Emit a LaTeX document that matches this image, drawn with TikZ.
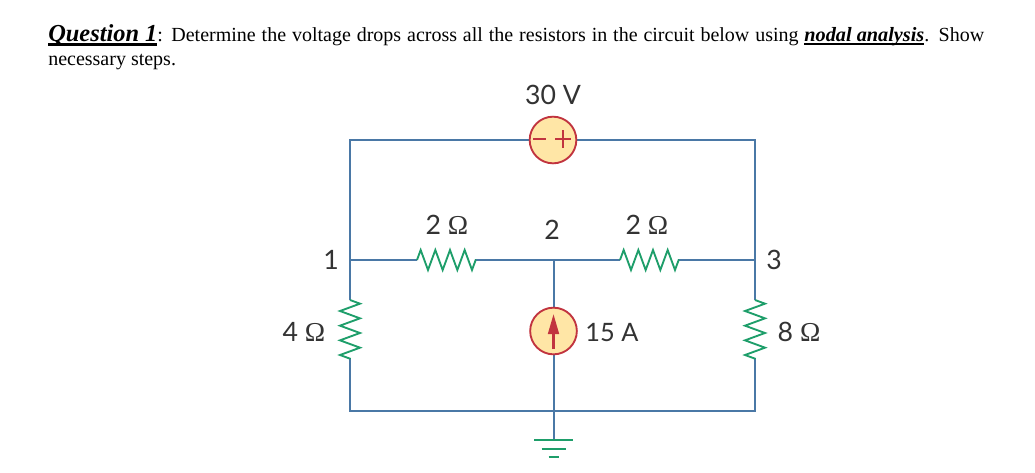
\documentclass[tikz,border=0pt]{standalone}
\usepackage{fontspec}
\setmainfont{Liberation Serif}
\newfontfamily\circuitfont{Lato}
\usetikzlibrary{arrows.meta,decorations.pathmorphing}
\definecolor{wireblue}{HTML}{4A78A6}
\definecolor{resgreen}{HTML}{1E9E6A}
\definecolor{srcred}{HTML}{C1343F}
\definecolor{srcfill}{HTML}{FFE6A6}
\definecolor{labelgray}{HTML}{333333}
\newsavebox{\ulbox}
% #1 drop of the rule, #2 its thickness, #3 the text
\newcommand{\thickul}[3]{\sbox{\ulbox}{#3}\rlap{\raisebox{-#1}{\rule{\wd\ulbox}{#2}}}\usebox{\ulbox}}
\newcommand{\ohm}{{\rmfamily\fontsize{20.5}{24}\selectfont Ω}}
\begin{document}
\begin{tikzpicture}
            [x=0.75pt,y=-0.75pt,
            Wire/.style={draw=wireblue,line width=1.5pt},
            Res/.style={draw=resgreen,line width=1.4pt,decorate,decoration={zigzag,segment length=11pt,amplitude=7.5pt}},
            Source/.style={circle,draw=srcred,fill=srcfill,line width=1.4pt,minimum size=35pt,inner sep=0pt},
            Sign/.style={draw=srcred,line width=1.5pt},
            Gnd/.style={draw=resgreen,line width=1.4pt},
            Label/.style={text=labelgray,font=\circuitfont\fontsize{20}{24}\selectfont,inner sep=0pt},
            Body/.style={anchor=base west,inner sep=0pt,font=\fontsize{15}{18}\selectfont}];
            \useasboundingbox (0,0) rectangle (1035,472);
            % question text
            \node[Body] (line1) at (48,41){\makebox[702pt][s]{\thickul{3.6pt}{2pt}{\fontsize{18.3}{20}\selectfont\textbf{\textit{Question 1}}}: Determine the voltage drops across all the resistors in the circuit below using \thickul{2.7pt}{1.5pt}{\fontsize{15.2}{18}\selectfont\textbf{\textit{nodal analysis}}}. Show}};
            \node[Body] (line2) at (48,65.5){necessary steps.};
            % corners and junctions
            \coordinate (tl) at (350,140);
            \coordinate (tr) at (755,140);
            \coordinate (ml) at (350,260);
            \coordinate (mm) at (553.5,260);
            \coordinate (mr) at (755,260);
            \coordinate (bl) at (350,411);
            \coordinate (bm) at (553.5,411);
            \coordinate (br) at (755,411);
            % resistor ends
            \coordinate (r1a) at (417,260);
            \coordinate (r1b) at (476,260);
            \coordinate (r2a) at (620,260);
            \coordinate (r2b) at (679,260);
            \coordinate (r3a) at (350,300);
            \coordinate (r3b) at (350,359);
            \coordinate (r4a) at (755,300);
            \coordinate (r4b) at (755,359);
            % ground
            \coordinate (g1) at (553.5,440);
            \coordinate (g1a) at (534,440);
            \coordinate (g1b) at (573,440);
            \coordinate (g2a) at (541.5,449);
            \coordinate (g2b) at (565.5,449);
            \coordinate (g3a) at (548.5,457);
            \coordinate (g3b) at (558.5,457);
            % wires
            \draw [Wire](ml) to (tl) to (tr) to (mr);
            \draw [Wire](ml) to (r1a);
            \draw [Wire](r1b) to (r2a);
            \draw [Wire](r2b) to (mr);
            \draw [Wire](ml) to (r3a);
            \draw [Wire](r3b) to (bl) to (br) to (r4b);
            \draw [Wire](mr) to (r4a);
            \draw [Wire](mm) to (bm) to (g1);
            % resistors
            \draw [Res](r1a) to (r1b);
            \draw [Res](r2a) to (r2b);
            \draw [Res](r3a) to (r3b);
            \draw [Res](r4a) to (r4b);
            % sources
            \node[Source] (vs) at (553,140){};
            \node[Source] (cs) at (553.5,331){};
            \coordinate (m1) at (533,139);
            \coordinate (m2) at (546,139);
            \coordinate (p1) at (555,139);
            \coordinate (p2) at (571,139);
            \coordinate (p3) at (563,130);
            \coordinate (p4) at (563,148);
            \draw [Sign](m1) to (m2);
            \draw [Sign](p1) to (p2);
            \draw [Sign](p3) to (p4);
            \coordinate (a1) at (553.5,349);
            \coordinate (a2) at (553.5,314);
            \draw [Sign,line width=2pt,-{Triangle[length=15pt,width=8pt]}](a1) to (a2);
            % ground bars
            \draw [Gnd](g1a) to (g1b);
            \draw [Gnd](g2a) to (g2b);
            \draw [Gnd](g3a) to (g3b);
            % labels
            \node[Label] (v30) at (553,95){30 V};
            \node[Label,font=\circuitfont\fontsize{19}{24}\selectfont] (a15) at (612,332){15 A};
            \node[Label] (n1) at (331,260){1};
            \node[Label] (n2) at (552,230){2};
            \node[Label] (n3) at (774,260){3};
            \node[Label] (l1) at (447,225){2 \ohm};
            \node[Label] (l2) at (647,225){2 \ohm};
            \node[Label] (l3) at (304,332){4 \ohm};
            \node[Label] (l4) at (799,332){8 \ohm};
\end{tikzpicture}
\end{document}
